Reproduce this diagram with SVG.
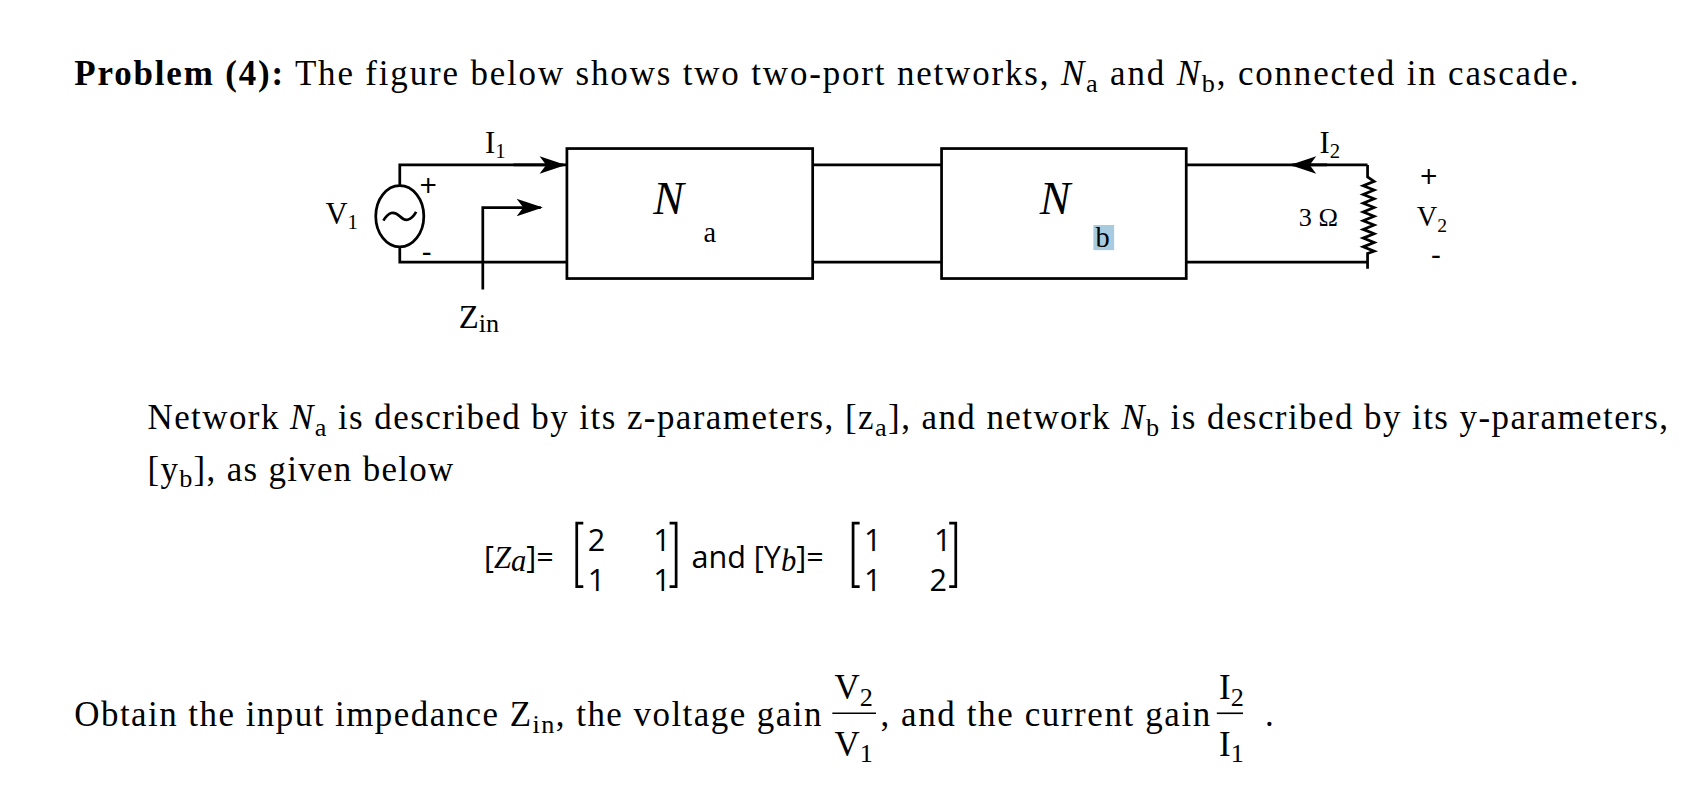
<svg xmlns="http://www.w3.org/2000/svg" width="1704" height="802" viewBox="0 0 1704 802">
<style>
.t{font-family:"Liberation Serif",serif;font-size:32px;fill:#000}
.c{font-family:"Liberation Serif",serif;fill:#000}
.m{font-family:"Open Sans","Liberation Sans",sans-serif;font-size:28px;fill:#000}
.w{stroke:#000;stroke-width:2.5;fill:none}
</style>
<defs><marker id="ah2" viewBox="0 0 12 8" markerWidth="36" markerHeight="16" refX="11" refY="4" orient="auto" markerUnits="userSpaceOnUse"><path d="M0,0 L12,4 L0,8 L3,4 Z" fill="#000"/></marker></defs>
<rect width="1704" height="802" fill="#fff"/>
<g transform="scale(1.0923)">
<text class="t" x="68" y="78" textLength="1377" lengthAdjust="spacing"><tspan font-weight="bold">Problem (4):</tspan> The figure below shows two two-port networks, <tspan font-style="italic">N</tspan><tspan font-size="24" dy="6">a</tspan><tspan dy="-6"> and </tspan><tspan font-style="italic">N</tspan><tspan font-size="24" dy="6">b</tspan><tspan dy="-6">, connected in cascade.</tspan></text>
<g id="Na"><rect class="w" x="519" y="136" width="225" height="119"/><text class="c" x="598" y="196" font-size="42" font-style="italic">N</text><text class="c" x="644" y="222" font-size="26">a</text></g>
<g id="Nb"><rect class="w" x="862" y="136" width="224" height="119"/><text class="c" x="952" y="196" font-size="42" font-style="italic">N</text><rect x="1001" y="206" width="19" height="23" fill="#a9cbe0"/><text class="c" x="1003" y="226" font-size="26">b</text></g>
<g id="source"><ellipse class="w" cx="366" cy="198" rx="22" ry="28"/><path d="M351,202 q7,-12 15,-4 q8,8 15,-4" class="w"/><text class="c" x="298" y="205" font-size="28">V<tspan font-size="19" dy="5">1</tspan></text><text class="m" x="384" y="180" font-size="26">+</text><text class="m" x="386" y="240" font-size="24">-</text></g>
<g id="load"><path class="w" stroke-width="2" d="M1252,151 V162 l6,4 -10,4 10,4 -10,4 10,4 -10,4 10,4 -10,4 10,4 -10,4 10,4 -10,4 10,4 -10,4 10,4 -10,4 10,4 -6,2 V246"/><text class="c" x="1189" y="207" font-size="24">3 Ω</text><text class="m" x="1300" y="172" font-size="22">+</text><text class="c" x="1297" y="207" font-size="26">V<tspan font-size="18" dy="5">2</tspan></text><text class="m" x="1310" y="243" font-size="20">-</text></g>
<g id="connectors">
<path class="w" d="M366,170 V151 H519 M366,226 V240 H519"/>
<path class="w" d="M744,151 H862 M744,240 H862"/>
<path class="w" d="M1086,151 H1252 M1086,240 H1252"/>
<path class="w" d="M470,151 H516" marker-end="url(#ah2)"/>
<path class="w" d="M1215,151 H1183" marker-end="url(#ah2)"/>
<path class="w" d="M442,265 V190 H495" marker-end="url(#ah2)"/>
</g>
<text class="c" x="444" y="140" font-size="28">I<tspan font-size="19" dy="5">1</tspan></text>
<text class="c" x="1208" y="140" font-size="28">I<tspan font-size="19" dy="5">2</tspan></text>
<text class="c" x="420" y="300" font-size="30">Z<tspan font-size="24" dy="4">in</tspan></text>
<text class="t" x="135" y="393" textLength="1392" lengthAdjust="spacing">Network <tspan font-style="italic">N</tspan><tspan font-size="24" dy="6">a</tspan><tspan dy="-6"> is described by its z-parameters, [z</tspan><tspan font-size="24" dy="6">a</tspan><tspan dy="-6">], and network </tspan><tspan font-style="italic">N</tspan><tspan font-size="24" dy="6">b</tspan><tspan dy="-6"> is described by its y-parameters,</tspan></text>
<text class="t" x="135" y="440" textLength="280" lengthAdjust="spacing">[y<tspan font-size="24" dy="6">b</tspan><tspan dy="-6">], as given below</tspan></text>
<g id="matrices">
<text class="m" x="443" y="520">[<tspan font-family="Liberation Serif" font-style="italic">Z</tspan><tspan font-family="Liberation Serif" font-style="italic" dy="3">a</tspan><tspan dy="-3">]=</tspan></text>
<path class="w" stroke-width="2" d="M534,479 H528 V537 H534 M613,479 H619 V537 H613"/>
<text class="m" x="538" y="504">2</text><text class="m" x="598" y="504">1</text>
<text class="m" x="538" y="541">1</text><text class="m" x="598" y="541">1</text>
<text class="m" x="633" y="520">and [Y<tspan font-family="Liberation Serif" font-style="italic" dy="3">b</tspan><tspan dy="-3">]=</tspan></text>
<path class="w" stroke-width="2" d="M787,479 H781 V537 H787 M869,479 H875 V537 H869"/>
<text class="m" x="791" y="504">1</text><text class="m" x="855" y="504">1</text>
<text class="m" x="791" y="541">1</text><text class="m" x="851" y="541">2</text>
</g>
<text class="t" x="68" y="665" textLength="684" lengthAdjust="spacing">Obtain the input impedance Z<tspan font-size="24" dy="6">in</tspan><tspan dy="-6">, the voltage gain</tspan></text>
<text class="t" x="764" y="640">V<tspan font-size="24" dy="6">2</tspan></text>
<line x1="762" y1="653" x2="802" y2="653" stroke="#000" stroke-width="1.5"/>
<text class="t" x="764" y="692">V<tspan font-size="24" dy="6">1</tspan></text>
<text class="t" x="806" y="665" textLength="302" lengthAdjust="spacing">, and the current gain</text>
<text class="t" x="1116" y="640">I<tspan font-size="24" dy="6">2</tspan></text>
<line x1="1114" y1="653" x2="1138" y2="653" stroke="#000" stroke-width="1.5"/>
<text class="t" x="1116" y="692">I<tspan font-size="24" dy="6">1</tspan></text>
<text class="t" x="1158" y="665">.</text>
</g>
</svg>
